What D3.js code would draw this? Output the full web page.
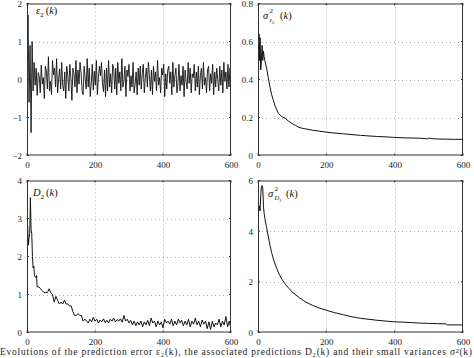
<!DOCTYPE html>
<html><head><meta charset="utf-8">
<script src="https://cdn.jsdelivr.net/npm/d3@7"></script>
<style>
html,body{margin:0;padding:0;background:#fff;overflow:hidden;}
svg{display:block;}
text{font-family:"Liberation Serif","DejaVu Serif",serif;}
</style></head>
<body>
<svg id="c" width="474" height="358"></svg>
<script>
// ---- data ----
const xTicks = [0, 200, 400, 600];
const e2Step = 3; // samples of e2 every 3 steps of k
const e2Values = [
 0, 1.7, -0.6, 0.9, -1.4, 1.0, -0.3, 0.45, -0.15, 0.3,
 -0.42, 0.18, 0.08, -0.35, 0.38, -0.12, 0.05, -0.5, 0.35, 0.22,
 -0.25, 0.6, -0.3, -0.05, -0.4, 0.5, 0.12, 0.3, -0.2, 0.55,
 -0.35, 0.02, 0.28, -0.25, 0.45, -0.15, -0.3, 0.2, -0.5, 0.35,
 0.1, -0.3, 0.4, 0.05, -0.55, 0.3, 0.15, -0.2, 0.5, -0.35,
 0.25, -0.12, 0.45, 0.18, -0.3, -0.4, 0.35, 0.05, -0.25, 0.55,
 -0.2, 0.3, -0.45, -0.1, 0.4, -0.28, 0.22, -0.15, 0.5, -0.4,
 0.05, 0.35, 0.1, 0.45, -0.1, -0.32, 0.25, -0.45, 0.3, -0.3,
 0.5, -0.2, 0.15, -0.35, 0.4, 0.28, -0.25, 0.3, -0.4, 0.45,
 -0.1, 0.2, -0.3, 0.55, -0.2, -0.05, 0.35, -0.45, 0.25, 0.08,
 0.4, -0.3, 0.1, -0.2, 0.45, -0.35, -0.12, 0.2, -0.4, 0.3,
 -0.15, 0.35, -0.25, 0.15, 0.4, -0.35, 0.05, 0.3, -0.2, 0.45,
 0.1, -0.3, 0.25, -0.4, 0.35, -0.05, 0.2, -0.3, 0.5, -0.15,
 0.05, -0.35, 0.3, 0.12, 0.4, -0.45, 0.15, -0.25, 0.25, 0.35,
 -0.1, 0.2, -0.4, 0.45, -0.2, 0.1, 0.3, -0.35, -0.1, 0.4,
 -0.3, 0.1, -0.15, 0.35, -0.45, 0.25, -0.05, -0.25, 0.45, -0.1,
 0.3, -0.35, 0.15, 0.05, 0.4, -0.3, 0.2, -0.2, 0.35, -0.4,
 0.1, 0.3, -0.25, 0.45, -0.15, 0.05, -0.35, 0.25, 0.35, -0.3,
 0.15, -0.1, 0.4, -0.4, 0.2, -0.2, 0.3, 0.0, -0.3, 0.35,
 -0.15, 0.25, -0.35, 0.45, -0.05, 0.2, -0.25, 0.4, -0.2, 0.3,
 0.05
];

const s2eK = [0,1,2,3,5,6,8,10,12,14,16,18,20,25,30,35,40,45,50,55,60,70,80,90,100,110,120,130,140,160,180,200,225,250,275,300,325,350,375,400,425,450,475,490,495,500,505,525,550,575,600];
const s2eV = [0,0.3,0.55,0.64,0.5,0.62,0.45,0.5,0.58,0.5,0.55,0.52,0.5,0.46,0.41,0.36,0.32,0.29,0.26,0.24,0.22,0.205,0.195,0.18,0.168,0.158,0.148,0.143,0.14,0.133,0.128,0.123,0.118,0.114,0.11,0.106,0.103,0.1,0.098,0.095,0.093,0.092,0.091,0.089,0.087,0.092,0.089,0.087,0.086,0.085,0.085];

const d2K = [0,2,4,6,8,10,12,14,16,18,20,22,25,28,30,35,40,45,50,55,60,65,70,75,80,85,90,95,100,105,110,115,120,125,130,135,140,145,150,155,160,165,170,
 175,180,185,190,195,200,205,210,215,220,225,230,235,240,245,250,255,260,265,270,275,280,285,290,295,300,305,310,315,320,325,330,335,340,345,350,355,360,365,370,375,380,385,390,395,400,405,410,415,420,425,430,435,440,445,450,455,460,465,470,475,480,485,490,495,500,505,510,515,520,525,530,535,540,545,550,555,560,565,570,575,580,585,590,595,600];
const d2V = [2.9,2.8,2.3,2.5,2.6,3.55,2.7,2.6,2.0,1.7,1.75,1.5,1.45,1.5,1.2,1.2,1.15,1.1,1.05,1.05,1.05,1.15,1.05,1.0,0.8,0.95,0.85,0.75,0.8,0.75,0.85,0.75,0.75,0.7,0.7,0.55,0.45,0.45,0.5,0.45,0.45,0.3,0.35,
 0.3,0.25,0.35,0.28,0.4,0.3,0.35,0.25,0.33,0.28,0.36,0.26,0.32,0.25,0.35,0.3,0.38,0.28,0.34,0.3,0.36,0.27,0.45,0.3,0.35,0.25,0.32,0.2,0.3,0.18,0.28,0.2,0.3,0.15,0.28,0.2,0.32,0.18,0.38,0.25,0.3,0.15,0.3,0.2,0.28,0.12,0.35,0.25,0.3,0.22,0.35,0.18,0.3,0.2,0.35,0.25,0.32,0.18,0.3,0.2,0.35,0.15,0.3,0.22,0.38,0.2,0.3,0.15,0.33,0.22,0.3,0.1,0.28,0.08,0.3,0.15,0.25,0.2,0.35,0.15,0.3,0.2,0.42,0.15,0.3,0.1];

const s2dK = [0,2,4,6,8,10,12,14,16,18,20,25,30,35,40,45,50,60,70,80,90,100,120,140,160,180,200,225,250,275,300,325,350,375,400,425,450,475,500,525,550,555,600];
const s2dV = [5.2,4.8,5.0,4.8,5.4,5.75,5.8,5.7,5.0,4.7,4.5,4.15,3.8,3.45,3.15,2.9,2.7,2.35,2.1,1.9,1.75,1.6,1.38,1.2,1.07,0.96,0.88,0.78,0.7,0.62,0.56,0.52,0.48,0.45,0.42,0.41,0.39,0.37,0.36,0.35,0.34,0.3,0.3];

const e2Ticks = [-2, -1, 0, 1, 2];
const s2eTicks = [0, 0.2, 0.4, 0.6, 0.8];
const d2Ticks = [0, 1, 2, 3, 4];
const s2dTicks = [0, 2, 4, 6];

const caption = "Evolutions of the prediction error ε₂(k), the associated predictions D₂(k) and their small variances σ²(k)";

// ---- drawing ----
const svg = d3.select("#c");

function panel(opt) {
  const x = d3.scaleLinear().domain([0, 600]).range([opt.x0, opt.x1]);
  const y = d3.scaleLinear().domain(opt.yDomain).range([opt.y1, opt.y0]);
  const g = svg.append("g");
  g.selectAll(".gx").data(xTicks.slice(1, -1)).enter().append("line")
    .attr("x1", d => Math.round(x(d)) + 0.5).attr("x2", d => Math.round(x(d)) + 0.5)
    .attr("y1", opt.y0).attr("y2", opt.y1)
    .attr("stroke", "#9a9a9a").attr("stroke-width", 0.8).attr("stroke-dasharray", "1,3");
  g.selectAll(".gy").data(opt.yTicks.slice(1, -1)).enter().append("line")
    .attr("x1", opt.x0).attr("x2", opt.x1)
    .attr("y1", d => Math.round(y(d)) + 0.5).attr("y2", d => Math.round(y(d)) + 0.5)
    .attr("stroke", "#9a9a9a").attr("stroke-width", 0.8).attr("stroke-dasharray", "1,3");
  const clipId = "clip" + opt.id;
  svg.append("clipPath").attr("id", clipId).append("rect")
    .attr("x", opt.x0).attr("y", opt.y0).attr("width", opt.x1 - opt.x0).attr("height", opt.y1 - opt.y0);
  const line = d3.line().x(d => x(d[0])).y(d => y(d[1]));
  g.append("path").datum(opt.data).attr("d", line)
    .attr("fill", "none").attr("stroke", "#111").attr("stroke-width", opt.sw || 1)
    .attr("stroke-linejoin", "round").attr("clip-path", `url(#${clipId})`);
  g.append("rect").attr("x", opt.x0 + 0.5).attr("y", opt.y0 + 0.5)
    .attr("width", opt.x1 - opt.x0 - 1).attr("height", opt.y1 - opt.y0 - 1)
    .attr("fill", "none").attr("stroke", "#333").attr("stroke-width", 1);
  const ax = d3.axisBottom(x).tickValues(xTicks).tickFormat(d3.format("d")).tickSize(0).tickPadding(6);
  const axG = g.append("g").attr("transform", `translate(0,${opt.y1})`).call(ax);
  axG.select(".domain").remove();
  axG.selectAll("text").attr("font-size", 9).attr("fill", "#222")
    .attr("font-family", "Liberation Serif, serif");
  const ay = d3.axisLeft(y).tickValues(opt.yTicks).tickFormat(opt.fmt).tickSize(0).tickPadding(5);
  const ayG = g.append("g").attr("transform", `translate(${opt.x0},0)`).call(ay);
  ayG.select(".domain").remove();
  ayG.selectAll("text").attr("font-size", 9).attr("fill", "#222")
    .attr("font-family", "Liberation Serif, serif");
  xTicks.forEach(t => {
    g.append("line").attr("x1", x(t)).attr("x2", x(t)).attr("y1", opt.y1).attr("y2", opt.y1 - 2).attr("stroke", "#333");
    g.append("line").attr("x1", x(t)).attr("x2", x(t)).attr("y1", opt.y0).attr("y2", opt.y0 + 2).attr("stroke", "#333");
  });
  opt.yTicks.forEach(t => {
    g.append("line").attr("x1", opt.x0).attr("x2", opt.x0 + 2).attr("y1", y(t)).attr("y2", y(t)).attr("stroke", "#333");
    g.append("line").attr("x1", opt.x1).attr("x2", opt.x1 - 2).attr("y1", y(t)).attr("y2", y(t)).attr("stroke", "#333");
  });
  return g;
}

const p1 = panel({id: 1, x0: 27, x1: 231, y0: 3.5, y1: 155.5, yDomain: [-2, 2], yTicks: e2Ticks,
  fmt: d3.format("d"), data: e2Values.map((v, i) => [i * e2Step, v]), sw: 0.9});
const p2 = panel({id: 2, x0: 258, x1: 463, y0: 3.5, y1: 155.5, yDomain: [0, 0.8], yTicks: s2eTicks,
  fmt: d => d === 0 ? "0" : d3.format(".1f")(d), data: s2eK.map((k, i) => [k, s2eV[i]])});
const p3 = panel({id: 3, x0: 27, x1: 231, y0: 180.5, y1: 332.5, yDomain: [0, 4], yTicks: d2Ticks,
  fmt: d3.format("d"), data: d2K.map((k, i) => [k, d2V[i]])});
const p4 = panel({id: 4, x0: 258, x1: 463, y0: 180.5, y1: 332.5, yDomain: [0, 6], yTicks: s2dTicks,
  fmt: d3.format("d"), data: s2dK.map((k, i) => [k, s2dV[i]])});

(function(){
  const t1 = p1.append("text").attr("x", 36).attr("y", 14).attr("font-size", 10.5).attr("fill", "#111");
  t1.append("tspan").attr("font-style", "italic").text("ε");
  t1.append("tspan").attr("font-size", 7).attr("dy", 2.5).text("2");
  t1.append("tspan").attr("dy", -2.5).attr("dx", 2).text("(");
  t1.append("tspan").attr("font-style", "italic").text("k");
  t1.append("tspan").text(")");

  const t3 = p3.append("text").attr("x", 33).attr("y", 196).attr("font-size", 10.5).attr("fill", "#111");
  t3.append("tspan").attr("font-style", "italic").text("D");
  t3.append("tspan").attr("font-size", 7).attr("dy", 2.5).text("2");
  t3.append("tspan").attr("dy", -2.5).attr("dx", 2).text("(");
  t3.append("tspan").attr("font-style", "italic").text("k");
  t3.append("tspan").text(")");

  p2.append("text").attr("x", 263).attr("y", 19).attr("font-size", 10.5).attr("font-style", "italic").attr("fill", "#111").text("σ");
  p2.append("text").attr("x", 269.5).attr("y", 13).attr("font-size", 7).attr("fill", "#111").text("2");
  const s2 = p2.append("text").attr("x", 269.5).attr("y", 22).attr("font-size", 6.5).attr("fill", "#111");
  s2.append("tspan").attr("font-style", "italic").text("ε");
  s2.append("tspan").attr("font-size", 4.5).attr("dy", 1.5).text("2");
  const r2 = p2.append("text").attr("x", 280).attr("y", 19).attr("font-size", 10.5).attr("fill", "#111");
  r2.append("tspan").text("(");
  r2.append("tspan").attr("font-style", "italic").text("k");
  r2.append("tspan").text(")");

  p4.append("text").attr("x", 268).attr("y", 197).attr("font-size", 10.5).attr("font-style", "italic").attr("fill", "#111").text("σ");
  p4.append("text").attr("x", 274.5).attr("y", 191).attr("font-size", 7).attr("fill", "#111").text("2");
  const s4 = p4.append("text").attr("x", 274.5).attr("y", 200).attr("font-size", 6.5).attr("fill", "#111");
  s4.append("tspan").attr("font-style", "italic").text("D");
  s4.append("tspan").attr("font-size", 4.5).attr("dy", 1.5).text("2");
  const r4 = p4.append("text").attr("x", 286).attr("y", 197).attr("font-size", 10.5).attr("fill", "#111");
  r4.append("tspan").text("(");
  r4.append("tspan").attr("font-style", "italic").text("k");
  r4.append("tspan").text(")");
})();

svg.append("text").attr("x", 0).attr("y", 355).attr("font-size", 9.5).attr("fill", "#222")
  .attr("textLength", 472).attr("lengthAdjust", "spacing").text(caption);
</script>
</body></html>
